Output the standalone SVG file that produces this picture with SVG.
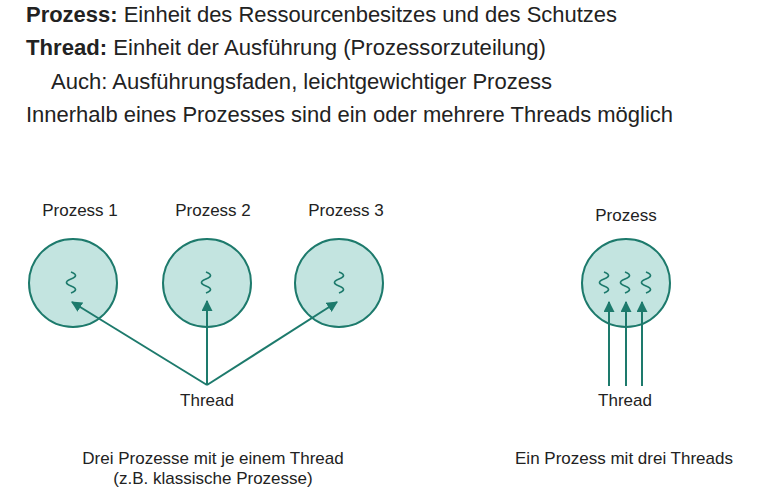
<svg xmlns="http://www.w3.org/2000/svg" width="783" height="497" viewBox="0 0 783 497">
<style>
.t{font-family:"Liberation Sans",Arial,sans-serif;fill:#222}
.h{font-size:21.5px}
.b{font-weight:bold}
.l{font-size:17px;text-anchor:middle}
.c{font-size:17px;text-anchor:middle}
.proc{fill:#c3e4e0;stroke:#1d7a6c;stroke-width:2}
.sq{fill:none;stroke:#1d7a6c;stroke-width:1.7}
.ar{stroke:#1d7a6c;stroke-width:2;fill:none;marker-end:url(#ah)}
</style>
<defs>
<marker id="ah" viewBox="0 0 10 10" refX="9" refY="5" markerWidth="5.5" markerHeight="5.5" orient="auto" markerUnits="strokeWidth">
<path d="M0,0 L10,5 L0,10 z" fill="#1d7a6c"/>
</marker>
<path id="sq" d="M-2,-11 q9,3.5 0,7 t0,7 t0,7" class="sq"/>
</defs>
<rect width="783" height="497" fill="#fff"/>
<g id="text">
<text class="t h" x="26" y="22" textLength="591" lengthAdjust="spacingAndGlyphs"><tspan class="b">Prozess:</tspan> Einheit des Ressourcenbesitzes und des Schutzes</text>
<text class="t h" x="26" y="55" textLength="520" lengthAdjust="spacingAndGlyphs"><tspan class="b">Thread:</tspan> Einheit der Ausführung (Prozessorzuteilung)</text>
<text class="t h" x="51" y="89" textLength="501" lengthAdjust="spacingAndGlyphs">Auch: Ausführungsfaden, leichtgewichtiger Prozess</text>
<text class="t h" x="26" y="122" textLength="647" lengthAdjust="spacingAndGlyphs">Innerhalb eines Prozesses sind ein oder mehrere Threads möglich</text>
</g>
<g id="p1"><text class="t l" x="80" y="216">Prozess 1</text><circle class="proc" cx="73" cy="283" r="44"/><use href="#sq" x="73" y="283"/></g>
<g id="p2"><text class="t l" x="213" y="216">Prozess 2</text><circle class="proc" cx="207" cy="283" r="44"/><use href="#sq" x="208" y="283"/></g>
<g id="p3"><text class="t l" x="346" y="216">Prozess 3</text><circle class="proc" cx="339" cy="283" r="44"/><use href="#sq" x="341" y="283"/></g>
<g id="p4"><text class="t l" x="626" y="221">Prozess</text><circle class="proc" cx="626" cy="283" r="44"/><use href="#sq" x="606" y="283"/><use href="#sq" x="627" y="283"/><use href="#sq" x="648" y="283"/></g>
<g id="connectors">
<line class="ar" x1="207" y1="385" x2="72" y2="302"/>
<line class="ar" x1="207" y1="385" x2="207" y2="301"/>
<line class="ar" x1="207" y1="385" x2="337" y2="302"/>
<line class="ar" x1="609" y1="386" x2="609" y2="302"/>
<line class="ar" x1="626" y1="386" x2="626" y2="302"/>
<line class="ar" x1="642" y1="386" x2="642" y2="302"/>
</g>
<g id="labels">
<text class="t l" x="207" y="406">Thread</text>
<text class="t l" x="625" y="406">Thread</text>
<text class="t c" x="213" y="464">Drei Prozesse mit je einem Thread</text>
<text class="t c" x="213" y="484">(z.B. klassische Prozesse)</text>
<text class="t c" x="624" y="464">Ein Prozess mit drei Threads</text>
</g>
</svg>
